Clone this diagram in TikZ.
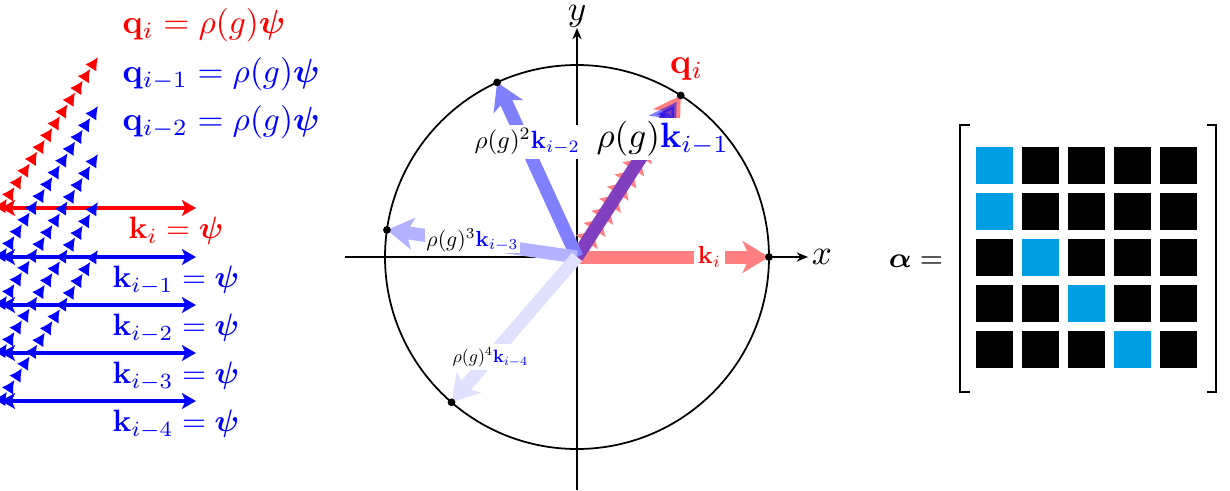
\documentclass[tikz,border=0pt]{standalone}
\usepackage{amsmath}
\usetikzlibrary{arrows.meta,calc}
\usetikzlibrary{decorations.markings}

\definecolor{alphablue}{RGB}{0,158,226}

\tikzset{
  kvec/.style={line width=1.4pt, {Stealth[length=4pt,width=4.5pt,inset=1pt]}-{Stealth[length=4pt,width=4.5pt,inset=1pt]}},
  qvec/.style={postaction={decorate}, decoration={markings,
      mark=between positions 0.06 and 1 step 0.078 with {\arrow{Latex[length=3.6pt,width=3.8pt]}}}},
  qbig/.style={postaction={decorate}, decoration={markings,
      mark=between positions 0.1 and 0.9 step 0.075 with {\arrow{Latex[length=4.5pt,width=8pt]}}}},
  rotvec/.style={line width=3.7pt, -{Stealth[length=7.5pt,width=9pt,inset=2pt]}},
  axisline/.style={line width=0.5pt, -{Stealth[length=3.2pt,width=2.6pt]}},
  veclabel/.style={fill=white, inner sep=1pt},
  ondot/.style={circle, fill=black, inner sep=0pt, minimum size=2.2pt},
  bracketline/.style={line width=0.7pt},
}

\begin{document}
\begin{tikzpicture}
    \useasboundingbox (0,0) rectangle (12.3,4.9);
    \pgfmathsetmacro{\rot}{180/pi}  % one radian, units of degrees
    \pgfmathsetmacro{\R}{1.92}  % circle radius, units of cm

    % left: stacked keys and queries
    \foreach \j/\y/\col/\sub in {0/2.82/red/i, 1/2.33/blue/i-1, 2/1.85/blue/i-2, 3/1.37/blue/i-3, 4/0.89/blue/i-4}{
        \coordinate (k\j s) at (0.01,\y);
        \coordinate (k\j e) at (1.96,\y);
        \draw[kvec, \col] (k\j s) -- (k\j e);
        \path[qvec, \col] (k\j s) -- ++(\rot:1.8) coordinate (q\j e);
        \node[anchor=north, text=\col] (klab\j) at (1.76,\y+0.03) {\scalebox{0.88}{$\mathbf{k}_{\sub} = \boldsymbol{\psi}$}};
    }
    \foreach \j/\col/\sub in {0/red/i, 1/blue/i-1, 2/blue/i-2}
        \node[anchor=base west, text=\col] (qlab\j) at ([shift={(0.12,0.23)}]q\j e) {\scalebox{0.95}{$\mathbf{q}_{\sub} = \rho(g)\boldsymbol{\psi}$}};

    % middle: rotations on the unit circle
    \coordinate (O) at (5.77,2.33);
    \coordinate (xmin) at (3.45,2.33);
    \coordinate (xmax) at (8.08,2.33);
    \coordinate (ymin) at (5.77,0);
    \coordinate (ymax) at (5.77,4.62);
    \draw[axisline] (xmin) -- (xmax);
    \draw[axisline] (ymin) -- (ymax);
    \node (xlab) at (8.22,2.33) {$x$};
    \node[anchor=base, inner sep=0pt] (ylab) at (5.77,4.70) {$y$};
    \foreach \n in {0,...,4}
        \path (O) ++(\n*\rot:\R) coordinate (p\n);

    \draw[rotvec, red!50] (O) -- (p0);
    \draw[rotvec, red!50, qbig] (O) -- (p1);
    \draw[rotvec, blue, opacity=0.5] (O) -- ($(O)!0.96!(p1)$);
    \draw[rotvec, blue!50] (O) -- (p2);
    \draw[rotvec, blue!30] (O) -- (p3);
    \draw[rotvec, blue!12] (O) -- (p4);

    \node[veclabel, text=red] (lab0) at ($(O)!0.69!(p0)$) {\scalebox{0.7}{$\mathbf{k}_i$}};
    \node[veclabel] (lab1) at ($(O)!0.75!(p1)+(0.08,-0.03)$) {$\rho(g)\textcolor{blue}{\mathbf{k}_{i-1}}$};
    \node[veclabel] (lab2) at ($(O)!0.66!(p2)+(0.03,0)$) {\scalebox{0.71}{$\rho(g)^2\textcolor{blue}{\mathbf{k}_{i-2}}$}};
    \node[veclabel, inner sep=0.4pt] (lab3) at ($(O)!0.55!(p3)+(0,0.02)$) {\scalebox{0.62}{$\rho(g)^3\textcolor{blue}{\mathbf{k}_{i-3}}$}};
    \node[veclabel] (lab4) at ($(O)!0.69!(p4)$) {\scalebox{0.51}{$\rho(g)^4\textcolor{blue}{\mathbf{k}_{i-4}}$}};
    \node[anchor=south, text=red] (qtop) at ([shift={(0.06,0.03)}]p1) {$\mathbf{q}_i$};

    \draw[line width=0.5pt] (O) circle (\R);
    \foreach \n in {0,...,4}
        \node[ondot] (dot\n) at (p\n) {};

    % right: attention pattern
    \node[anchor=base, font=\footnotesize] (alab) at (9.16,2.23) {$\boldsymbol{\alpha} =$};
    \draw[bracketline] (9.70,3.65) -- (9.60,3.65) -- (9.60,0.98) -- (9.70,0.98);
    \draw[bracketline] (12.07,3.65) -- (12.16,3.65) -- (12.16,0.98) -- (12.07,0.98);
    \foreach \r in {0,...,4}{
        \foreach \c in {0,...,4}{
            \pgfmathtruncatemacro{\hit}{\c==max(\r-1,0)}
            \ifnum\hit=1 \def\cellcol{alphablue}\else\def\cellcol{black}\fi
            \fill[\cellcol] (9.76+0.46*\c, 3.43-0.46*\r) rectangle ++(0.37,-0.37);
        }
    }
\end{tikzpicture}
\end{document}
